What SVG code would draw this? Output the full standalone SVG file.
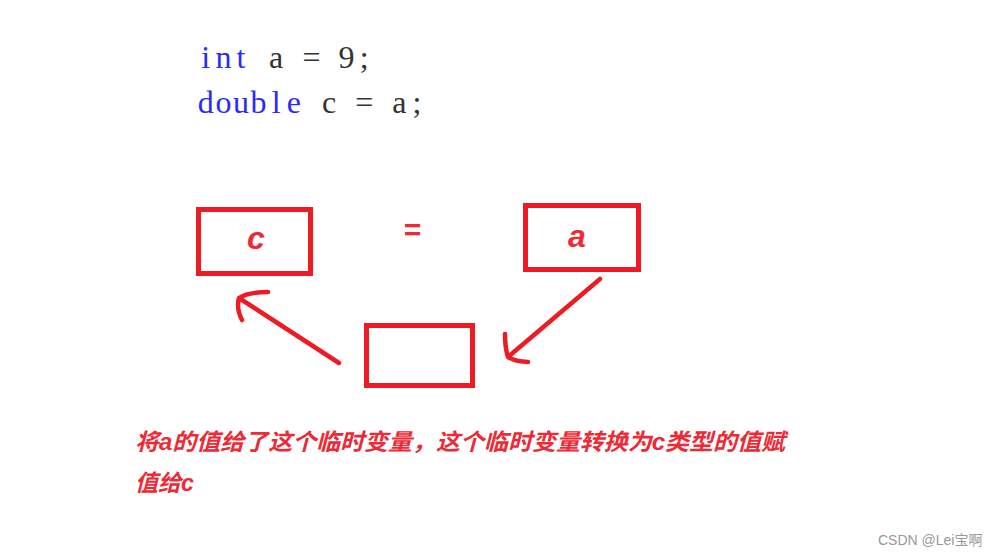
<svg xmlns="http://www.w3.org/2000/svg" width="997" height="556" viewBox="0 0 997 556">
<style>
.code{font-family:"Liberation Serif","DejaVu Serif",serif;font-size:32px;text-anchor:middle}
.kw{fill:#2a2aff}
.id{fill:#333}
.box{fill:none;stroke:#ed1c24;stroke-width:5}
.lbl{font-family:"Liberation Sans","Noto Sans CJK SC",sans-serif;font-weight:bold;font-style:italic;fill:#ed2a36}
.arr{fill:none;stroke:#ed1c24;stroke-width:4.5;stroke-linecap:round;stroke-linejoin:round}
</style>
<rect width="997" height="556" fill="#fff"/>
<g id="code">
<text class="code" y="68"><tspan class="kw" x="205.8 223.4 241">int</tspan><tspan class="id" x="258.6 276.2 293.8 311.4 329 346.6 364.2"> a = 9;</tspan></text>
<text class="code" y="113"><tspan class="kw" x="205.8 223.4 241 258.6 276.2 293.8">double</tspan><tspan class="id" x="311.4 329 346.6 364.2 381.8 399.4 417"> c = a;</tspan></text>
</g>
<g id="node-c">
<rect class="box" x="198.5" y="209.5" width="112" height="64"/>
<text class="lbl" x="256" y="249" font-size="32" text-anchor="middle">c</text>
</g>
<g id="equals">
<text class="lbl" x="412" y="240" font-size="30" text-anchor="middle">=</text>
</g>
<g id="node-a">
<rect class="box" x="525.5" y="205.5" width="113" height="64"/>
<text class="lbl" x="577" y="247" font-size="32" text-anchor="middle">a</text>
</g>
<g id="node-temp">
<rect class="box" x="366.5" y="325.5" width="106" height="60"/>
</g>
<g id="connectors">
<path class="arr" d="M339 363 L239 298 M268 292 Q248 292 239 298 Q236 308 242 320"/>
<path class="arr" d="M600 279 L508 357 M505 334 Q505 348 508 357 Q516 362 528 362"/>
</g>
<g id="note">
<text class="lbl" x="135" y="450" font-size="23" textLength="650" lengthAdjust="spacingAndGlyphs">将a的值给了这个临时变量，这个临时变量转换为c类型的值赋</text>
<text class="lbl" x="135" y="491" font-size="23">值给c</text>
</g>
<g id="watermark">
<text x="878" y="545" font-family="Liberation Sans,'Noto Sans CJK SC',sans-serif" font-size="14" fill="#999">CSDN @Lei宝啊</text>
</g>
</svg>
